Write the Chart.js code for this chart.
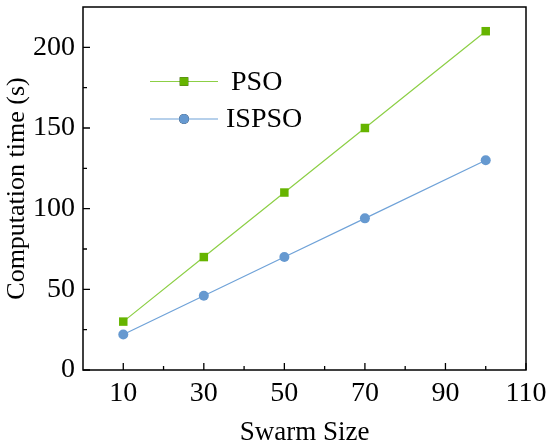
<!DOCTYPE html>
<html>
<head>
<meta charset="utf-8">
<script src="https://cdn.jsdelivr.net/npm/chart.js@4"></script>
<style>
  html, body { margin: 0; padding: 0; background: #fff; }
  #wrap { width: 550px; height: 445px; }
</style>
</head>
<body>
<div id="wrap"><canvas id="chart"></canvas></div>
<script>
// data
const swarmSize = [10, 30, 50, 70, 100];
const psoTime = [30, 70, 110, 150, 210];
const ispsoTime = [22, 46, 70, 94, 130];
const seriesNames = ["PSO", "ISPSO"];

// tick values
const xMajor = [10, 30, 50, 70, 90, 110];
const xMinor = [20, 40, 60, 80, 100];
const yMajor = [0, 50, 100, 150, 200];
const yMinor = [25, 75, 125, 175];

const FONT = "'Liberation Serif', 'Times New Roman', serif";
const GREEN = "#66b400";
const GREEN_LINE = "#8ccf45";
const BLUE = "#6699d0";
const BLUE_LINE = "#6fa2d8";

const toPts = (xs, ys) => xs.map((x, i) => ({ x: x, y: ys[i] }));

// frame + inward ticks + legend inside the plot
const framePlugin = {
  id: "frame",
  afterDraw(chart) {
    const ctx = chart.ctx;
    const a = chart.chartArea;
    const xs = chart.scales.x;
    const ys = chart.scales.y;
    ctx.save();
    ctx.strokeStyle = "#000";
    ctx.lineWidth = 1.5;
    ctx.strokeRect(a.left, a.top, a.right - a.left, a.bottom - a.top);

    ctx.lineWidth = 1.3;
    ctx.beginPath();
    xMajor.forEach(v => {
      const p = xs.getPixelForValue(v);
      ctx.moveTo(p, a.bottom); ctx.lineTo(p, a.bottom - 7);
    });
    xMinor.forEach(v => {
      const p = xs.getPixelForValue(v);
      ctx.moveTo(p, a.bottom); ctx.lineTo(p, a.bottom - 4);
    });
    yMajor.forEach(v => {
      const p = ys.getPixelForValue(v);
      ctx.moveTo(a.left, p); ctx.lineTo(a.left + 7, p);
    });
    yMinor.forEach(v => {
      const p = ys.getPixelForValue(v);
      ctx.moveTo(a.left, p); ctx.lineTo(a.left + 4, p);
    });
    ctx.stroke();

    // legend
    const rows = [81.5, 119];
    chart.data.datasets.forEach((ds, i) => {
      const y = rows[i];
      ctx.strokeStyle = ds.borderColor;
      ctx.lineWidth = 1.2;
      ctx.beginPath();
      ctx.moveTo(150, y); ctx.lineTo(218, y);
      ctx.stroke();
      Chart.helpers.drawPoint(ctx, {
        pointStyle: ds.pointStyle,
        radius: ds.pointRadius,
        borderWidth: 0
      }, 184, y);
      ctx.fillStyle = ds.pointBackgroundColor;
      ctx.fill();
      ctx.fillStyle = "#000";
      ctx.font = "28px " + FONT;
      ctx.textBaseline = "middle";
      ctx.textAlign = "left";
      ctx.fillText(ds.label, i === 0 ? 231 : 226, y + 1);
    });
    ctx.restore();
  }
};

new Chart(document.getElementById("chart"), {
  type: "line",
  data: {
    datasets: [
      {
        label: seriesNames[0],
        data: toPts(swarmSize, psoTime),
        borderColor: GREEN_LINE,
        backgroundColor: GREEN,
        pointBackgroundColor: GREEN,
        pointBorderWidth: 0,
        pointStyle: "rect",
        pointRadius: 6,
        borderWidth: 1.2,
        fill: false
      },
      {
        label: seriesNames[1],
        data: toPts(swarmSize, ispsoTime),
        borderColor: BLUE_LINE,
        backgroundColor: BLUE,
        pointBackgroundColor: BLUE,
        pointBorderWidth: 0,
        pointStyle: "circle",
        pointRadius: 5,
        borderWidth: 1.2,
        fill: false
      }
    ]
  },
  options: {
    responsive: true,
    maintainAspectRatio: false,
    animation: false,
    layout: { padding: { top: 7, right: 24, left: 0, bottom: 0 } },
    plugins: {
      legend: { display: false },
      tooltip: { enabled: false }
    },
    scales: {
      x: {
        type: "linear",
        min: 0,
        max: 110,
        afterBuildTicks: s => { s.ticks = xMajor.map(v => ({ value: v })); },
        afterFit: s => { s.height = 75; s.paddingLeft = 0; s.paddingRight = 0; },
        grid: { display: false, drawTicks: false },
        border: { display: false },
        ticks: {
          color: "#000",
          padding: 7,
          maxRotation: 0,
          font: { family: FONT, size: 28 }
        },
        title: {
          display: true,
          text: "Swarm Size",
          color: "#000",
          padding: { top: 0, bottom: -4 },
          font: { family: FONT, size: 27 }
        }
      },
      y: {
        type: "linear",
        min: 0,
        max: 225,
        afterBuildTicks: s => { s.ticks = yMajor.map(v => ({ value: v })); },
        afterFit: s => { s.width = 83; s.paddingTop = 0; s.paddingBottom = 0; },
        grid: { display: false, drawTicks: false },
        border: { display: false },
        ticks: {
          color: "#000",
          padding: 8,
          font: { family: FONT, size: 28 }
        },
        title: {
          display: true,
          text: "Computation time (s)",
          color: "#000",
          padding: { top: 2, bottom: 0 },
          font: { family: FONT, size: 26 }
        }
      }
    }
  },
  plugins: [framePlugin]
});
</script>
</body>
</html>
